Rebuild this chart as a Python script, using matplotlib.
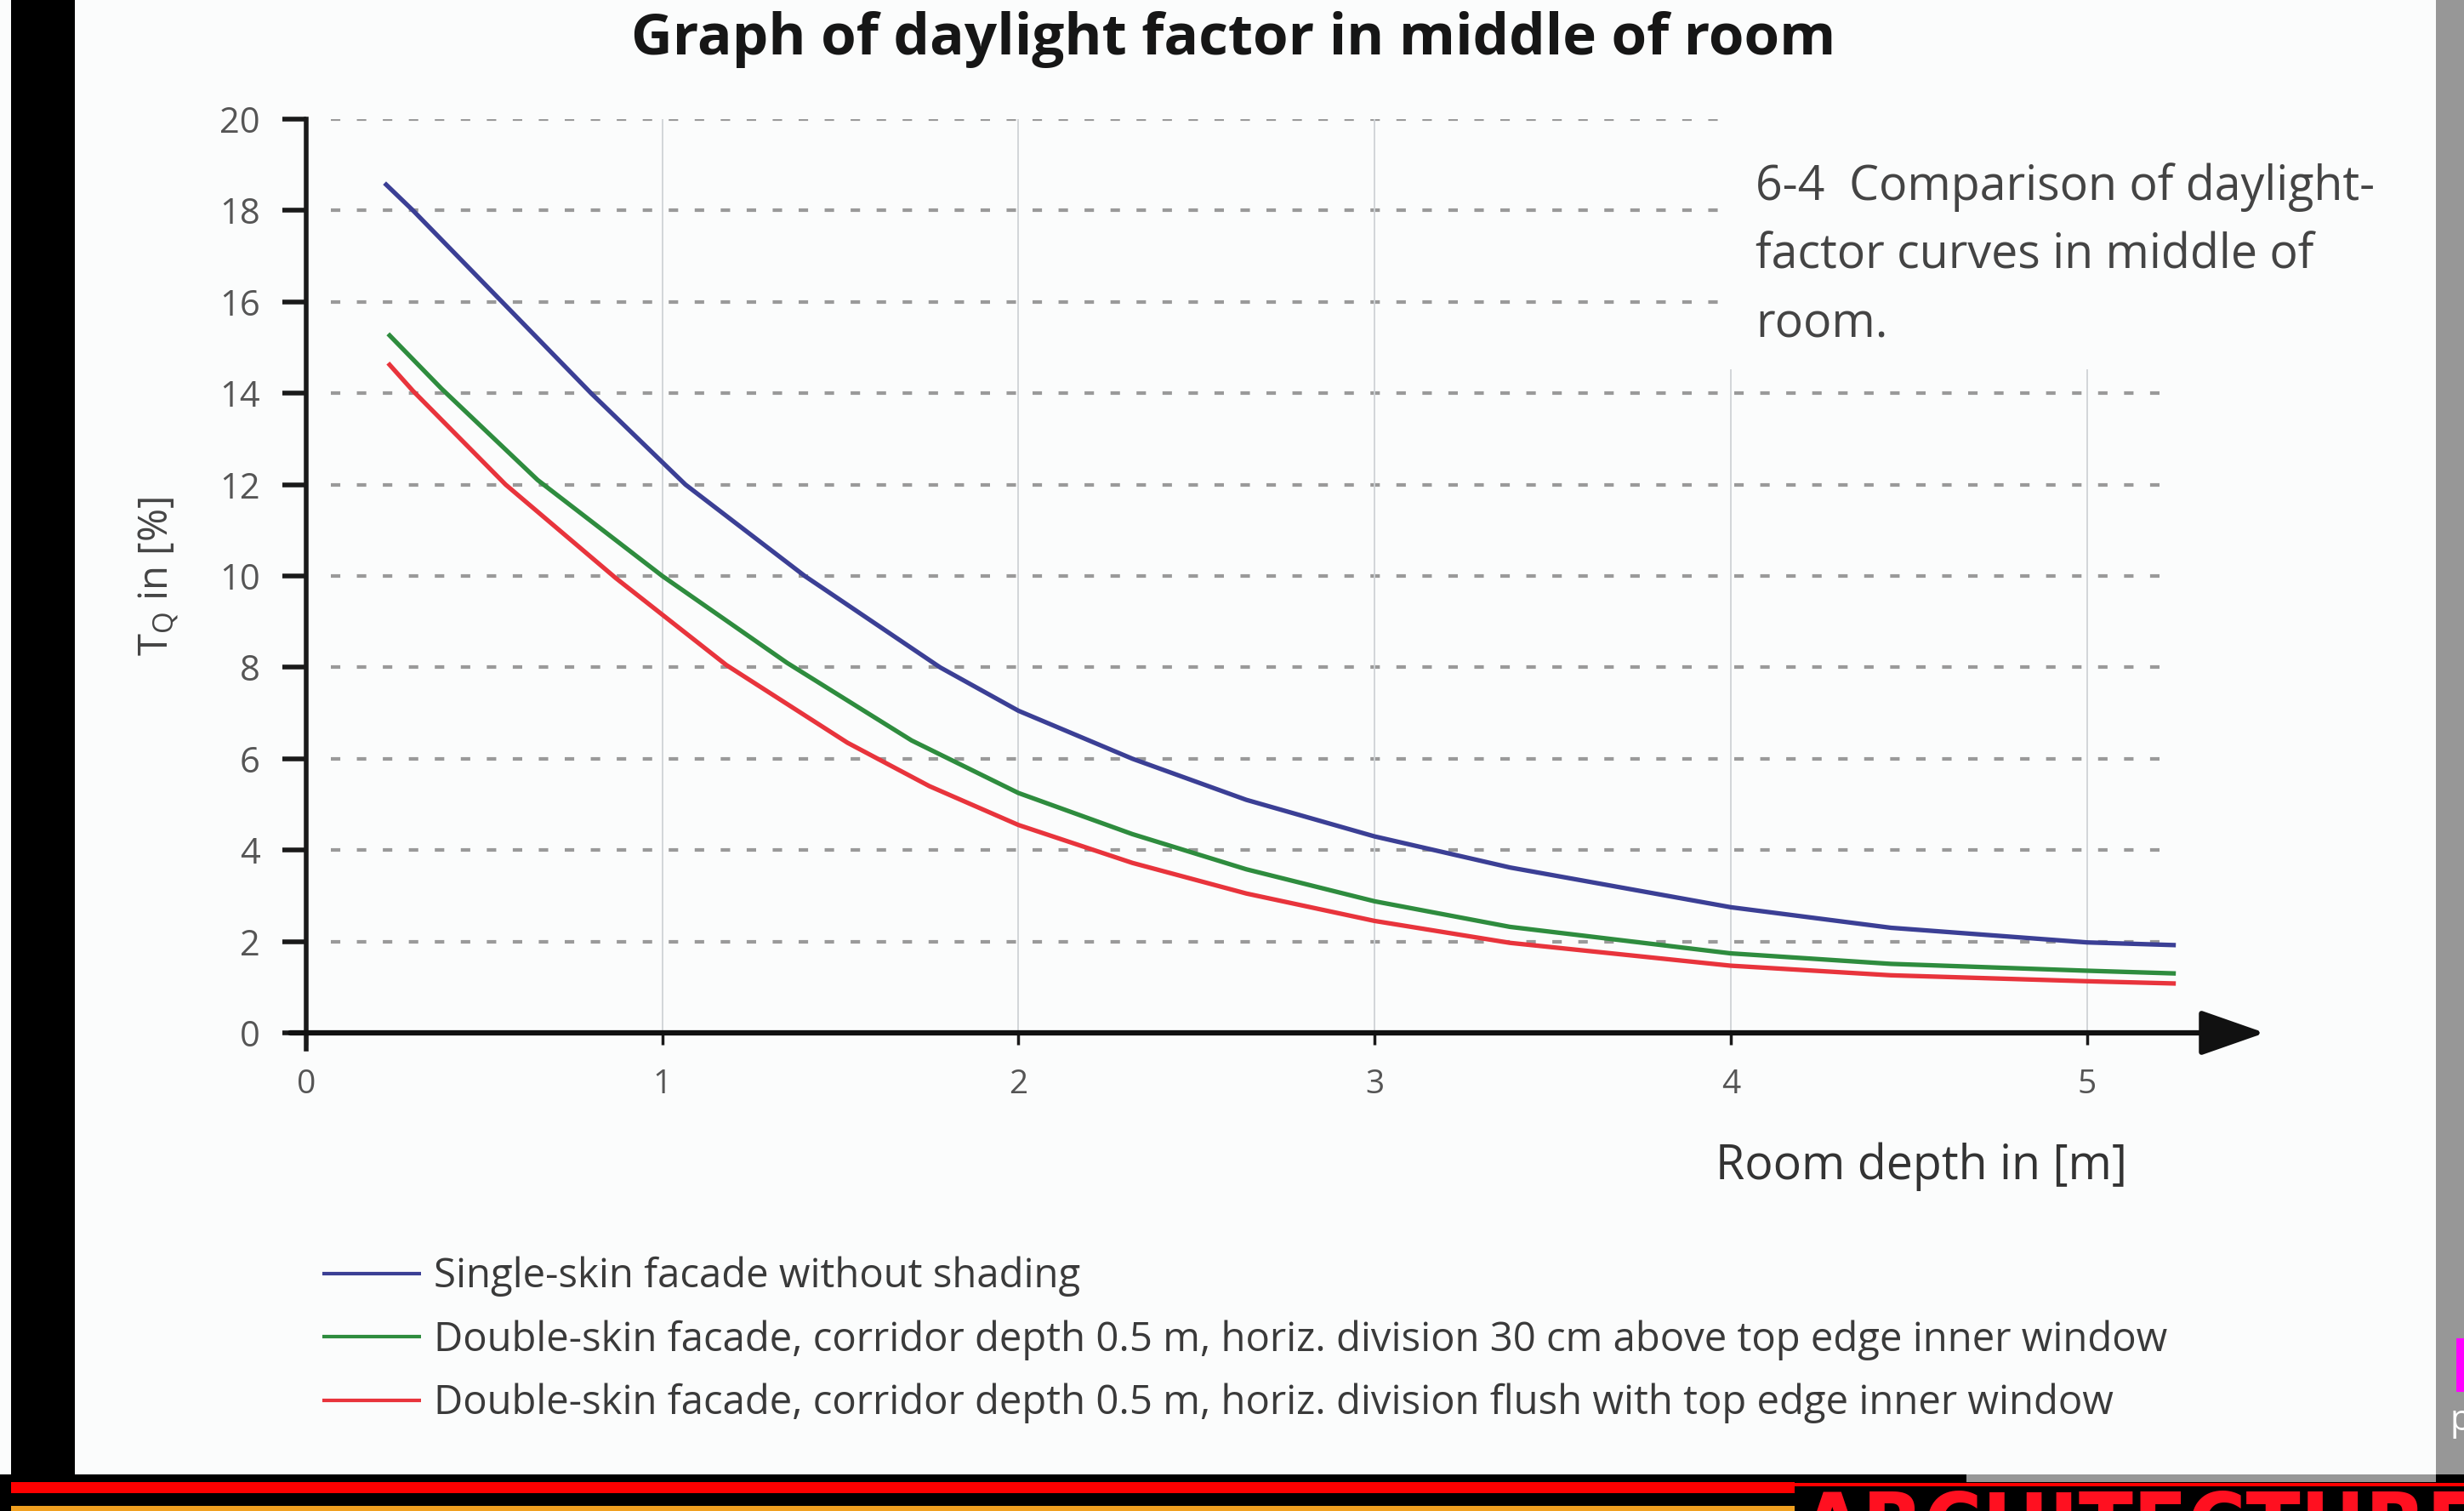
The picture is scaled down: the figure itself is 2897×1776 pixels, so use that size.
import matplotlib
matplotlib.use("Agg")
import matplotlib.pyplot as plt
from matplotlib.patches import Rectangle

plt.rcParams['font.family'] = ['Open Sans', 'DejaVu Sans']
plt.rcParams['lines.scale_dashes'] = False

# data (points where each curve crosses grid lines etc.)
single_x = [0.22, 0.30, 0.55, 0.80, 1.065, 1.40, 1.78, 2.0, 2.32, 2.64, 3.0, 3.38, 4.0, 4.45, 5.0, 5.25]
single_y = [18.6, 18.0, 16.0, 14.0, 12.0, 10.0, 8.0, 7.05, 6.0, 5.1, 4.3, 3.62, 2.75, 2.3, 1.98, 1.92]
double30_x = [0.23, 0.38, 0.65, 1.0, 1.35, 1.7, 2.0, 2.32, 2.64, 3.0, 3.38, 4.0, 4.45, 5.0, 5.25]
double30_y = [15.3, 14.1, 12.1, 10.0, 8.1, 6.4, 5.25, 4.35, 3.58, 2.88, 2.32, 1.74, 1.51, 1.36, 1.3]
flush_x = [0.23, 0.30, 0.56, 0.87, 1.18, 1.52, 1.75, 2.0, 2.32, 2.64, 3.0, 3.38, 4.0, 4.45, 5.0, 5.25]
flush_y = [14.66, 14.05, 12.0, 9.95, 8.05, 6.35, 5.4, 4.55, 3.72, 3.05, 2.45, 1.97, 1.47, 1.26, 1.13, 1.08]
series_labels = [
    "Single-skin facade without shading",
    "Double-skin facade, corridor depth 0.5 m, horiz. division 30 cm above top edge inner window",
    "Double-skin facade, corridor depth 0.5 m, horiz. division flush with top edge inner window",
]
series_colors = ['#3b3f95', '#2e8c3e', '#e8343c']
y_ticks = [0, 2, 4, 6, 8, 10, 12, 14, 16, 18, 20]
x_ticks = [0, 1, 2, 3, 4, 5]

W, H = 2897, 1776
fig = plt.figure(figsize=(W / 100, H / 100), dpi=100)
fig.patch.set_facecolor('#fbfcfc')


def box(x0, y0, x1, y1, color):
    # pixel box (y from top) -> figure rectangle
    fig.add_artist(Rectangle((x0 / W, 1 - y1 / H), (x1 - x0) / W, (y1 - y0) / H,
                             transform=fig.transFigure, color=color, lw=0, zorder=0))


# scan frame
box(13, 0, 88, 1733, '#000000')
box(2864, 0, 2897, 1745, '#979797')
box(0, 1733, 2897, 1776, '#000000')
box(2312, 1733, 2864, 1742, '#979797')
box(13, 1742, 2110, 1755, '#ff0000')
box(13, 1770, 2110, 1776, '#f0a020')
box(2110, 1743, 2897, 1747, '#ff0000')
box(2888, 1573, 2897, 1636, '#ff00ff')
fig.text(2118 / W, 1 - 1750 / H, "ARCHITECTURE", color='#ff1020', fontsize=75,
         fontweight='bold', family='DejaVu Sans', fontstretch='condensed',
         ha='left', va='top')
fig.text(2880 / W, 1 - 1670 / H, "p", color='white', fontsize=30, ha='left', va='center')

# axes placed so that x=0..5.5 and y=0..20 land where the scan has them
x0px, xunit = 360, 418.7
y0px, y20px = 1214, 140
ax = fig.add_axes([x0px / W, 1 - y0px / H, 5.5 * xunit / W, (y0px - y20px) / H])
ax.set_xlim(0, 5.5)
ax.set_ylim(0, 20)
ax.patch.set_alpha(0)
for s in ax.spines.values():
    s.set_visible(False)

# grid
for y in y_ticks[1:]:
    xend = 4.0 if y >= 16 else 5.25
    ax.plot([0.07, xend], [y, y], color='#9a9a9a', lw=3, dashes=(8, 14), zorder=1)
for x in x_ticks[1:]:
    ytop = 20 if x <= 3 else 14.5
    ax.plot([x, x], [0, ytop], color='#cfd3d6', lw=1.3, zorder=1)

# axes lines
ax.plot([0, 0], [-0.35, 20], color='#1a1a1a', lw=4, clip_on=False, zorder=3)
ax.annotate('', xy=(5.5, 0), xytext=(-0.045, 0),
            arrowprops=dict(arrowstyle='-|>,head_length=0.4,head_width=0.14',
                            mutation_scale=117, lw=4.5, color='#111111',
                            shrinkA=0, shrinkB=0),
            annotation_clip=False, zorder=3)

ax.set_yticks(y_ticks)
ax.set_xticks(x_ticks)
ax.tick_params(axis='y', direction='out', length=20, width=4, color='#1a1a1a',
               pad=19, labelsize=30, labelcolor='#555555')
ax.tick_params(axis='x', direction='out', length=10, width=2.5, color='#1a1a1a',
               pad=20, labelsize=28, labelcolor='#555555')

# curves
curves = [(single_x, single_y), (double30_x, double30_y), (flush_x, flush_y)]
for (xs, ys), lab, col in zip(curves, series_labels, series_colors):
    ax.plot(xs, ys, color=col, lw=3.8, label=lab, solid_joinstyle='round',
            solid_capstyle='butt', zorder=4)

ax.set_ylabel(r'$\mathregular{T_Q}$ in [%]', fontsize=34, color='#444444')
ax.yaxis.set_label_coords(-0.064, 0.50)

fig.text(1450 / W, 1 - 46 / H, "Graph of daylight factor in middle of room",
         fontsize=48.5, fontweight='bold', color='#161616', ha='center', va='center')
fig.text(2064 / W, 1 - 191 / H,
         "6-4  Comparison of daylight-\nfactor curves in middle of\nroom.",
         fontsize=40, color='#444444', ha='left', va='top', linespacing=1.55)
fig.text(2017 / W, 1 - 1371 / H, "Room depth in [m]", fontsize=40, color='#333333',
         ha='left', va='center')

leg = fig.legend(loc='upper left', bbox_to_anchor=(379 / W, 1 - 1477 / H),
                 frameon=False, fontsize=34, handlelength=2.46, handletextpad=0.31,
                 labelspacing=0.57, borderaxespad=0, borderpad=0)
for t in leg.get_texts():
    t.set_color('#3a3a3a')
for l in leg.get_lines():
    l.set_linewidth(3)

fig.savefig('out.png', dpi=100, facecolor=fig.get_facecolor())
